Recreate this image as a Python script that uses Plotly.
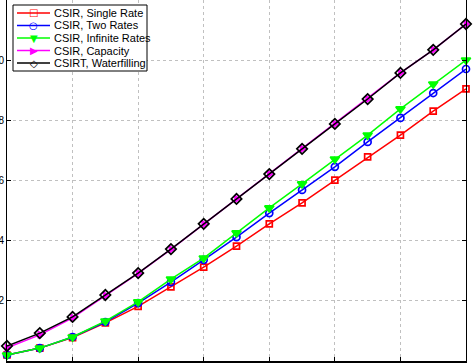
import plotly.graph_objects as go

snr_db = [0, 2, 4, 6, 8, 10, 12, 14, 16, 18, 20, 22, 24, 26, 28]

single_rate = [0.20, 0.43, 0.78, 1.27, 1.82, 2.47, 3.13, 3.83, 4.57, 5.27, 6.03, 6.80, 7.53, 8.33, 9.07]
two_rates = [0.20, 0.43, 0.80, 1.30, 1.93, 2.63, 3.37, 4.13, 4.93, 5.70, 6.47, 7.30, 8.10, 8.93, 9.73]
infinite_rates = [0.20, 0.43, 0.80, 1.33, 1.97, 2.73, 3.43, 4.27, 5.10, 5.90, 6.73, 7.53, 8.40, 9.23, 10.03]
capacity = [0.44, 0.87, 1.44, 2.18, 2.92, 3.72, 4.56, 5.40, 6.23, 7.07, 7.90, 8.73, 9.60, 10.37, 11.23]
waterfilling = [0.50, 0.93, 1.47, 2.20, 2.93, 3.73, 4.57, 5.40, 6.23, 7.07, 7.90, 8.73, 9.60, 10.37, 11.23]

series_names = ["CSIR, Single Rate", "CSIR, Two Rates", "CSIR, Infinite Rates",
                "CSIR, Capacity", "CSIRT, Waterfilling"]
series_values = [single_rate, two_rates, infinite_rates, capacity, waterfilling]
series_colors = ["#ff0000", "#0000ff", "#00ff00", "#ff00ff", "#000000"]
series_symbols = ["square-open", "circle-open", "triangle-down", "triangle-right", "diamond-open"]
series_sizes = [6, 7, 8, 6, 8]
legend_glyphs = ["\u25a1", "\u25cb", "\u25bc", "\u25b6", "\u25c7"]

x_ticks = [0, 4, 8, 12, 16, 20, 24, 28]
y_ticks = [0, 2, 4, 6, 8, 10, 12]

W, H = 474, 363
ML, MR, MT, MB = 7, 8, 0, 2
PW, PH = W - ML - MR, H - MT - MB


def px(x):
    return (x - ML) / PW


def py(y):
    return 1 - (y - MT) / PH


fig = go.Figure()
for name, vals, color, sym, size in zip(series_names, series_values, series_colors,
                                        series_symbols, series_sizes):
    fig.add_trace(go.Scatter(
        x=snr_db, y=vals, name=name, mode="lines+markers",
        line=dict(color=color, width=1.5),
        marker=dict(symbol=sym, size=size, color=color,
                    line=dict(color=color, width=1.7)),
        cliponaxis=False, showlegend=False,
    ))

# compact MATLAB-style legend box
shapes = [dict(type="rect", xref="paper", yref="paper",
               x0=px(13), x1=px(147), y0=py(71), y1=py(5),
               line=dict(color="black", width=1), fillcolor="white", layer="above")]
annotations = []
for i, (name, color, glyph) in enumerate(zip(series_names, series_colors, legend_glyphs)):
    yc = 13 + 12.5 * i
    shapes.append(dict(type="line", xref="paper", yref="paper",
                       x0=px(17), x1=px(50), y0=py(yc), y1=py(yc),
                       line=dict(color=color, width=1.5), layer="above"))
    annotations.append(dict(xref="paper", yref="paper", x=px(33.5), y=py(yc),
                            text=glyph, showarrow=False, xanchor="center", yanchor="middle",
                            font=dict(family="DejaVu Sans", size=10, color=color)))
    annotations.append(dict(xref="paper", yref="paper", x=px(52), y=py(yc),
                            text=name, showarrow=False, xanchor="left", yanchor="middle",
                            font=dict(family="Liberation Sans, Arial, sans-serif",
                                      size=11, color="black")))

fig.update_layout(
    width=W, height=H,
    margin=dict(l=ML, r=MR, t=MT, b=MB, autoexpand=False),
    paper_bgcolor="white", plot_bgcolor="white",
    font=dict(family="Liberation Sans, Arial, sans-serif", size=11, color="black"),
    showlegend=False,
    shapes=shapes, annotations=annotations,
    xaxis=dict(
        range=[0, 28], tickvals=x_ticks, showticklabels=False,
        showgrid=True, gridcolor="#c0c0c0", griddash="dot", gridwidth=1,
        showline=True, linecolor="black", linewidth=1.5,
        ticks="inside", ticklen=4, tickcolor="black",
        zeroline=False, automargin=False,
    ),
    xaxis2=dict(
        range=[0, 28], tickvals=x_ticks, showticklabels=False,
        overlaying="x", side="top", anchor="y",
        showgrid=False, showline=False, zeroline=False,
        ticks="inside", ticklen=4, tickcolor="black", automargin=False,
    ),
    yaxis=dict(
        range=[0, 12.03], tickvals=y_ticks,
        showgrid=True, gridcolor="#c0c0c0", griddash="dot", gridwidth=1,
        showline=True, linecolor="black", linewidth=1, mirror="ticks",
        ticks="inside", ticklen=4, tickcolor="black",
        tickfont=dict(size=10), zeroline=False, automargin=False,
    ),
)

fig.write_html("out.html", config={"displayModeBar": False},
               post_script="document.body.style.margin='0';")
